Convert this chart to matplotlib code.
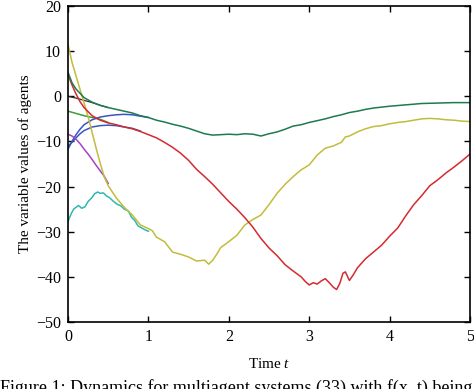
import matplotlib
matplotlib.use("Agg")
import matplotlib.pyplot as plt

plt.rcParams['font.family'] = ['Liberation Serif', 'DejaVu Serif']
plt.rcParams['mathtext.fontset'] = 'custom'
plt.rcParams['mathtext.it'] = 'Liberation Serif:italic'

# agent trajectories (time, value)
t_green = [0, 0.05, 0.1, 0.2, 0.3, 0.4, 0.5, 0.6, 0.7, 0.8, 0.9, 1.0, 1.1, 1.2, 1.3, 1.4,
           1.5, 1.6, 1.7, 1.8, 1.9, 2.0, 2.1, 2.2, 2.3, 2.4, 2.5, 2.6, 2.7, 2.8, 2.9, 3.0,
           3.1, 3.2, 3.3, 3.4, 3.5, 3.6, 3.7, 3.8, 3.9, 4.0, 4.2, 4.4, 4.6, 4.8, 5.0]
v_green = [5.3, 3.0, 1.6, -0.3, -1.3, -2.0, -2.5, -2.9, -3.3, -3.7, -4.3, -4.7, -5.3, -5.7,
           -6.2, -6.6, -7.1, -7.7, -8.3, -8.6, -8.5, -8.4, -8.5, -8.3, -8.4, -8.8, -8.3, -7.9,
           -7.3, -6.6, -6.3, -5.8, -5.4, -5.0, -4.5, -4.1, -3.6, -3.3, -2.9, -2.6, -2.4, -2.2,
           -1.9, -1.6, -1.5, -1.4, -1.4]

t_red = [0, 0.05, 0.1, 0.15, 0.2, 0.3, 0.4, 0.5, 0.6, 0.7, 0.8, 0.9, 1.0, 1.1, 1.2, 1.3,
         1.4, 1.5, 1.6, 1.7, 1.8, 1.9, 2.0, 2.1, 2.2, 2.3, 2.4, 2.5, 2.6, 2.7, 2.8, 2.9,
         2.95, 3.0, 3.05, 3.1, 3.15, 3.2, 3.25, 3.3, 3.34, 3.38, 3.42, 3.45, 3.5, 3.55, 3.6,
         3.7, 3.8, 3.9, 4.0, 4.1, 4.2, 4.3, 4.4, 4.5, 4.6, 4.7, 4.8, 4.9, 5.0]
v_red = [4.8, 2.5, 0.5, -1.2, -2.5, -4.3, -5.3, -5.9, -6.3, -6.8, -7.2, -7.8, -8.5, -9.2,
         -10.2, -11.3, -12.6, -14.2, -16.2, -17.8, -19.5, -21.4, -23.3, -25.0, -26.9, -29.0,
         -31.5, -33.6, -35.3, -37.3, -38.7, -40.0, -41.0, -41.8, -41.3, -41.6, -40.9, -40.4,
         -41.3, -42.3, -42.8, -41.5, -39.2, -38.9, -40.8, -39.5, -38.0, -36.0, -34.5, -33.0,
         -31.0, -29.2, -26.5, -24.0, -22.0, -19.8, -18.5, -17.0, -15.7, -14.3, -12.8]

t_yellow = [0, 0.05, 0.1, 0.15, 0.2, 0.25, 0.3, 0.35, 0.4, 0.45, 0.5, 0.6, 0.7, 0.8, 0.9,
            1.0, 1.05, 1.1, 1.2, 1.3, 1.4, 1.5, 1.6, 1.7, 1.75, 1.8, 1.85, 1.9, 2.0, 2.1,
            2.2, 2.3, 2.4, 2.5, 2.6, 2.7, 2.8, 2.9, 3.0, 3.1, 3.2, 3.3, 3.4, 3.45, 3.5, 3.6,
            3.7, 3.8, 3.9, 4.0, 4.1, 4.2, 4.3, 4.4, 4.5, 4.6, 4.7, 4.8, 4.9, 5.0]
v_yellow = [11.5, 7.5, 4.5, 1.5, -1.5, -4.5, -8.0, -11.5, -14.8, -17.8, -19.8, -22.5, -24.6,
            -26.3, -28.5, -29.3, -29.8, -31.2, -32.2, -34.5, -35.0, -35.6, -36.5, -36.3,
            -37.2, -36.3, -35.0, -33.5, -32.2, -30.8, -28.5, -27.3, -26.3, -24.0, -21.5,
            -19.5, -17.8, -16.3, -15.2, -13.0, -11.5, -11.0, -10.2, -9.0, -8.8, -7.9, -7.2,
            -6.7, -6.5, -6.1, -5.8, -5.6, -5.3, -5.0, -4.9, -5.0, -5.2, -5.3, -5.5, -5.6]

t_black = [0, 0.1, 0.2, 0.3, 0.4, 0.5]
v_black = [0.0, -0.4, -0.9, -1.4, -2.0, -2.5]

t_green2 = [0, 0.1, 0.2, 0.3, 0.4, 0.5]
v_green2 = [-3.3, -3.8, -4.3, -4.7, -5.1, -5.8]

t_blue1 = [0, 0.05, 0.1, 0.15, 0.2, 0.3, 0.4, 0.5, 0.6, 0.7, 0.8, 0.9, 1.0]
v_blue1 = [-11.7, -10.0, -8.5, -7.3, -6.3, -5.2, -4.6, -4.3, -4.1, -4.0, -4.1, -4.4, -4.7]

t_blue2 = [0, 0.05, 0.1, 0.15, 0.2, 0.3, 0.4, 0.5, 0.6, 0.7, 0.8, 0.9]
v_blue2 = [-11.0, -10.2, -9.2, -8.3, -7.6, -6.8, -6.5, -6.4, -6.5, -6.8, -7.1, -7.7]

t_purple = [0, 0.05, 0.1, 0.15, 0.2, 0.25, 0.3, 0.35, 0.4, 0.45, 0.5]
v_purple = [-8.4, -8.8, -9.5, -10.5, -11.7, -12.8, -14.0, -15.3, -16.5, -17.7, -19.3]

t_cyan = [0, 0.04, 0.07, 0.1, 0.13, 0.17, 0.21, 0.25, 0.3, 0.33, 0.37, 0.4, 0.44, 0.48,
          0.52, 0.56, 0.61, 0.66, 0.7, 0.75, 0.79, 0.83, 0.87, 0.9, 0.95, 1.0]
v_cyan = [-27.7, -26.0, -25.0, -24.6, -24.2, -24.8, -24.5, -23.3, -22.4, -21.6, -21.2, -21.5,
          -21.4, -22.1, -22.5, -23.2, -23.9, -24.3, -25.0, -25.4, -26.8, -27.5, -28.7, -29.0,
          -29.5, -29.9]

fig = plt.figure(figsize=(4.74, 3.89), dpi=100)
ax = fig.add_axes([68 / 474, 67 / 389, 402 / 474, 316 / 389])

lw = 1.1
ax.plot(t_black, v_black, color='#3a2a2a', lw=0.9)
ax.plot(t_green2, v_green2, color='#3c9c3c', lw=lw)
ax.plot(t_blue1, v_blue1, color='#3a55c0', lw=lw)
ax.plot(t_blue2, v_blue2, color='#3a55c0', lw=lw)
ax.plot(t_purple, v_purple, color='#a244c4', lw=lw)
ax.plot(t_cyan, v_cyan, color='#2fb8b0', lw=lw)
ax.plot(t_yellow, v_yellow, color='#c2bc3c', lw=lw)
ax.plot(t_red, v_red, color='#d42a30', lw=lw)
ax.plot(t_green, v_green, color='#1e7a50', lw=lw)

ax.set_xlim(0, 5)
ax.set_ylim(-50, 20)
ax.set_xticks([0, 1, 2, 3, 4, 5])
ax.set_yticks([-50, -40, -30, -20, -10, 0, 10, 20])
ax.tick_params(direction='in', top=True, right=True, length=4, width=1.0,
               labelsize=11.5, pad=5)
for s in ax.spines.values():
    s.set_linewidth(1.2)

ax.set_xlabel('Time $t$', fontsize=11, labelpad=9)
ax.set_ylabel('The variable values of agents', fontsize=11, labelpad=3)

# caption, cut by the lower edge as in the source
fig.text(0.0, 10 / 389, 'Figure 1: Dynamics for multiagent systems (33) with f(x, t) being',
         fontsize=13, va='top', ha='left')

fig.savefig('out.png', dpi=100)
